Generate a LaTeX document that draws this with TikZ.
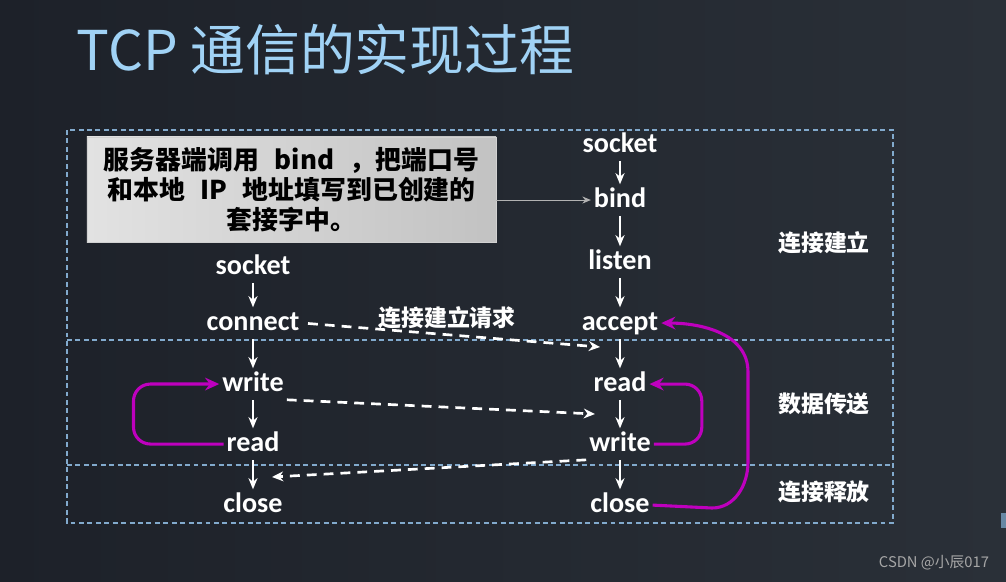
\documentclass[tikz,border=0pt]{standalone}
\usepackage{fontspec}
\usetikzlibrary{positioning,arrows.meta}
\newfontfamily\cjk{Noto Sans CJK SC}
\newfontfamily\lab{Carlito}
\definecolor{bgleft}{RGB}{29,33,41}
\definecolor{bgright}{RGB}{42,48,56}
\definecolor{titleblue}{RGB}{160,210,245}
\definecolor{framecol}{RGB}{130,170,205}
\definecolor{loopcol}{RGB}{190,0,190}
\definecolor{boxl}{RGB}{226,226,226}
\definecolor{boxr}{RGB}{194,194,194}
\tikzset{
  call/.style={text=white,font=\lab\bfseries\fontsize{20}{24}\selectfont,
    text height=14pt,text depth=4pt,inner sep=2pt},
  phase/.style={text=white,font=\cjk\bfseries\fontsize{16.3}{20}\selectfont},
  flow/.style={-{Stealth[length=8pt,width=6.5pt]},white,line width=1.1pt},
  msg/.style={-{Stealth[length=8pt,width=7pt]},white,line width=1.9pt,dash pattern=on 7pt off 5pt},
  again/.style={-{Stealth[length=10pt,width=9pt]},loopcol,line width=2.2pt,rounded corners=12pt},
  part/.style={framecol,line width=0.8pt,dash pattern=on 3.5pt off 2.5pt},
}
\begin{document}
\begin{tikzpicture}[x=0.025cm,y=-0.025cm,>=Stealth,node distance=1.525cm,on grid]
% background
\shade[left color=bgleft,right color=bgright] (0,0) rectangle (1006,581);
\useasboundingbox (0,0) rectangle (1006,581);
\fill[framecol!80!black] (1001,513) rectangle (1006,528);
\node[anchor=west,text=titleblue,font=\cjk\fontsize{39}{45}\selectfont] (title) at (72,50) {TCP 通信的实现过程};

% phases
\draw[part] (67,130) rectangle (893,523);
\draw[part] (67,340) -- (893,340);
\draw[part] (67,465) -- (893,465);
\node[phase] (p1) at (824,243) {连接建立};
\node[phase] (p2) at (824,404) {数据传送};
\node[phase] (p3) at (824,492) {连接释放};

% server
\node[call] (ssocket) at (620,145) {socket};
\node[call] (sbind) [below=1.375cm of ssocket] {bind};
\node[call] (slisten) [below=1.55cm of sbind] {listen};
\node[call] (saccept) [below=of slisten] {accept};
\node[call] (sread) [below=of saccept] {read};
\node[call] (swrite) [below=1.5cm of sread] {write};
\node[call] (sclose) [below=of swrite] {close};

% client
\node[call] (csocket) at (253,267) {socket};
\node[call] (cconnect) [below=1.4cm of csocket] {connect};
\node[call] (cwrite) [below=of cconnect] {write};
\node[call] (cread) [below=1.5cm of cwrite] {read};
\node[call] (cclose) [below=of cread] {close};

\node[phase] (req) at (447,318) {连接建立请求};

% note
\node[left color=boxl,right color=boxr,draw=white!82!black,line width=0.6pt,
  minimum width=10.225cm,minimum height=2.625cm,align=center,
  font=\cjk\bfseries\fontsize{18.4}{21.5}\selectfont] (note) at (291.5,189.5)
  {服务器端调用\hspace{0.6em}bind\hspace{0.6em}，把端口号\\和本地\hspace{0.6em}IP\hspace{0.6em}地址填写到已创建的\\套接字中。};
\draw[-{Stealth[length=6pt,width=5pt]},white!70!black,line width=0.6pt] (note.east |- sbind.west) -- (sbind.west);

\foreach \a/\b in {ssocket/sbind,sbind/slisten,slisten/saccept,saccept/sread,sread/swrite,swrite/sclose,
  csocket/cconnect,cconnect/cwrite,cwrite/cread,cread/cclose}
  \draw[flow] (\a) -- (\b);

\coordinate (d1) at (600,347);
\coordinate (d2) at (595,414);
\coordinate (d3) at (272,477);
\draw[msg,shorten <=4pt] (cconnect.east) -- (d1);
\draw[msg] (cwrite.south east) -- (d2);
\draw[msg] (swrite.south west) -- (d3);

\draw[again] (cread.west) -- +(-90,0) |- (cwrite.west);
\draw[again] (swrite.east) -- +(48,0) |- (sread.east);
\draw[-{Stealth[length=10pt,width=9pt]},loopcol,line width=2.2pt] (sclose.east) -- (712,508) to[out=0,in=-90] (748,462)
  -- (748,372) to[out=90,in=0] (saccept.east);

\node[text=white!65!black,font=\cjk\fontsize{10.5}{12}\selectfont] (mark) at (934,563) {CSDN @小辰017};
\end{tikzpicture}
\end{document}
